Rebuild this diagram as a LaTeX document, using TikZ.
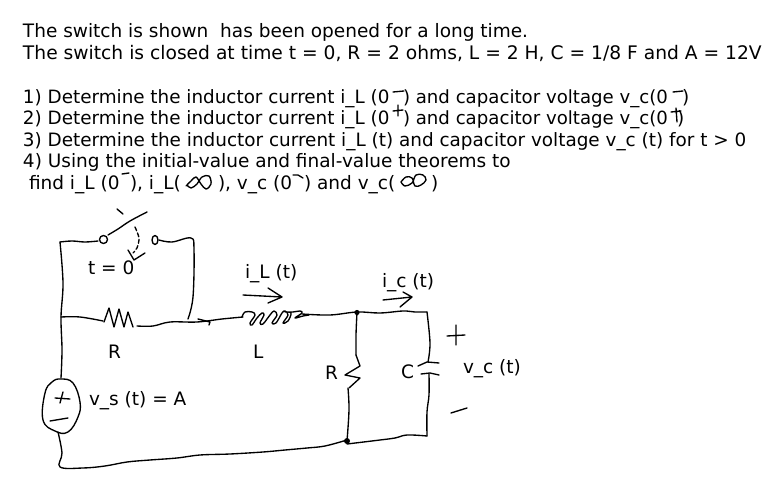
\documentclass[tikz,border=0pt]{standalone}
\usepackage{fontspec}
\setmainfont{DejaVu Sans}
\begin{document}
\begin{tikzpicture}[x=1pt,y=-1pt,
  txt/.style={anchor=base west,inner sep=0pt,outer sep=0pt,font=\fontsize{18.5}{22}\selectfont},
  txtb/.style={txt,font=\fontsize{18.15}{22}\selectfont},
  txta/.style={txt,font=\fontsize{18.35}{22}\selectfont},
  hand/.style={line width=1.35pt,line cap=round,line join=round,black},
  ink/.style={hand,smooth,tension=0.6}]
\useasboundingbox (0,0) rectangle (769,497);
% statement
\node[txt] (l1) at (23,38) {The switch is shown\ \ has been opened for a long time.};
\node[txt,font=\fontsize{18.68}{22}\selectfont] (l2) at (23,60) {The switch is closed at time t = 0, R = 2 ohms, L = 2 H, C = 1/8 F and A = 12V};
\node[txta] (l3a) at (23,104) {1) Determine the inductor current i\_L (0};
\node[txtb] (l3b) at (403,104) {) and capacitor voltage v\_c(0};
\node[txt] (l3c) at (682,104) {)};
\node[txta] (l4a) at (23,125) {2) Determine the inductor current i\_L (0};
\node[txtb] (l4b) at (403,125) {) and capacitor voltage v\_c(0};
\node[txt] (l4c) at (677,125) {)};
\node[txt,font=\fontsize{18.4}{22}\selectfont] (l5) at (23,147) {3) Determine the inductor current i\_L (t) and capacitor voltage v\_c (t) for t > 0};
\node[txt] (l6) at (23,168) {4) Using the initial-value and final-value theorems to};
\node[txt] (l7a) at (29,190) {find i\_L (0};
\node[txt] (l7b) at (130,190) {), i\_L(};
\node[txt] (l7c) at (218,190) {), v\_c (0};
\node[txt] (l7d) at (304,190) {) and v\_c(};
\node[txt] (l7e) at (431,190) {)};
% hand-written exponents
\draw[hand] (393,92)--(404,91);
\draw[hand] (673,92)--(683,91);
\draw[hand] (393,111)--(403,110) (398,105)--(398,116);
\draw[hand] (671,112)--(681,111) (676,108)--(677,122);
\draw[hand] (122,174)--(129,173);
\draw[hand] (293,175)--(298,175)--(303,178);
% infinity signs
\draw[ink] plot coordinates {(186,186)(191,181)(196,177)(201,184)(206,189)(211,184)(209,176)(202,177)(197,184)(191,188)(187,185)};
\draw[ink] plot coordinates {(401,182)(406,177)(412,178)(415,186)(421,185)(426,180)(423,175)(416,175)(412,183)(405,186)(401,182)};
% switch
\draw[ink] plot coordinates {(60,242)(72,241)(85,242)(98,241)};
\draw[hand] (103.5,239.5) circle[radius=4];
\draw[ink] plot coordinates {(108,235)(118,229)(130,221)(147,212)};
\draw[hand] (117,209)--(123,214);
\draw[hand,dash pattern=on 4pt off 2.5pt,smooth] plot coordinates {(135,227)(139,238)(137,248)(133,253)};
\draw[hand] (128,250)--(134,260)--(145,253);
\draw[hand] (155,240) ellipse[x radius=3,y radius=4.5];
\draw[ink] plot coordinates {(159,240)(172,242)(191,238)(194,250)(193,297)(188,319)};
% left side and R
\draw[ink] plot coordinates {(60,242)(63,283)(61,317)(62,350)(61,378)};
\draw[ink] plot coordinates {(61,317)(80,317)(103,321)};
\draw[hand] (104,322)--(109,308)--(114,327)--(119,309)--(124,327)--(128,312)--(133,327);
\draw[ink] plot coordinates {(137,326)(153,326)(170,322)(197,322)(222,319)(243,317)};
\draw[hand] (198,319)--(210,322)--(209,325);
% inductor
\draw[ink] plot coordinates {(242,317)(245,312)(252,312)(255,315)(250,323)(252,325)(257,318)(262,313)(264,315)(260,323)(263,324)(270,315)(274,311)(277,315)(272,323)(276,323)(282,313)(285,311)(288,315)(283,323)(288,321)(291,313)(285,312)(293,312)(300,311)(302,313)(295,318)(303,316)(309,315)};
\draw[ink] plot coordinates {(302,314)(330,315)(357,312)(380,313)(403,311)(415,312)(427,312)};
% shunt R
\draw[ink] plot coordinates {(357,312)(356,335)(356,355)};
\draw[hand] (356,355)--(360,366)--(345,375)--(360,378)--(349,388);
\draw[ink] plot coordinates {(348,388)(349,410)(347,441)};
% capacitor
\draw[ink] plot coordinates {(427,312)(430,343)(428,362)};
\draw[hand] (418,366)--(427,362)--(439,363);
\draw[hand] (421,374)--(430,373)--(439,375);
\draw[ink] plot coordinates {(429,374)(429,395)(427,412)(427,436)};
\draw[ink] plot coordinates {(427,436)(407,435)(395,438)(380,440)(347,444)};
% junctions
\fill (357,312.5) circle[radius=2.6];
\fill (347,441) circle[radius=3];
% bottom wire
\draw[ink] plot coordinates {(347,440)(325,446)(307,448)(285,450)(263,452)(230,454)(200,455)(177,458)(150,460)(127,462)(105,466)(83,468)(60,467)(62,453)(58,432)};
% source
\draw[hand,smooth cycle,tension=0.7] plot coordinates {(61,379)(73,383)(80,402)(78,417)(68,432)(55,431)(43,420)(45,393)(52,382)};
\draw[hand] (55,398)--(70,399) (63,392)--(60,403) (50,421)--(68,418);
% polarity
\draw[hand] (447,336)--(465,335) (456,325)--(456,345) (451,413)--(467,408);
% current arrows
\draw[hand] (243,295)--(282,297) (268,288)--(282,297)--(268,303);
\draw[hand] (383,300)--(412,297) (403,292)--(412,297)--(400,307);
% labels
\node[txt] (tz) at (88,275) {t = 0};
\node[txt] (r1) at (108,358) {R};
\node[txt] (ll) at (253,358) {L};
\node[txt] (r2) at (325,379) {R};
\node[txt] (cc) at (401,378) {C};
\node[txt] (vc) at (463,373) {v\_c (t)};
\node[txt] (vs) at (89,405) {v\_s (t) = A};
\node[txt] (il) at (245,279) {i\_L (t)};
\node[txt] (ic) at (382,288) {i\_c (t)};
\end{tikzpicture}
\end{document}
